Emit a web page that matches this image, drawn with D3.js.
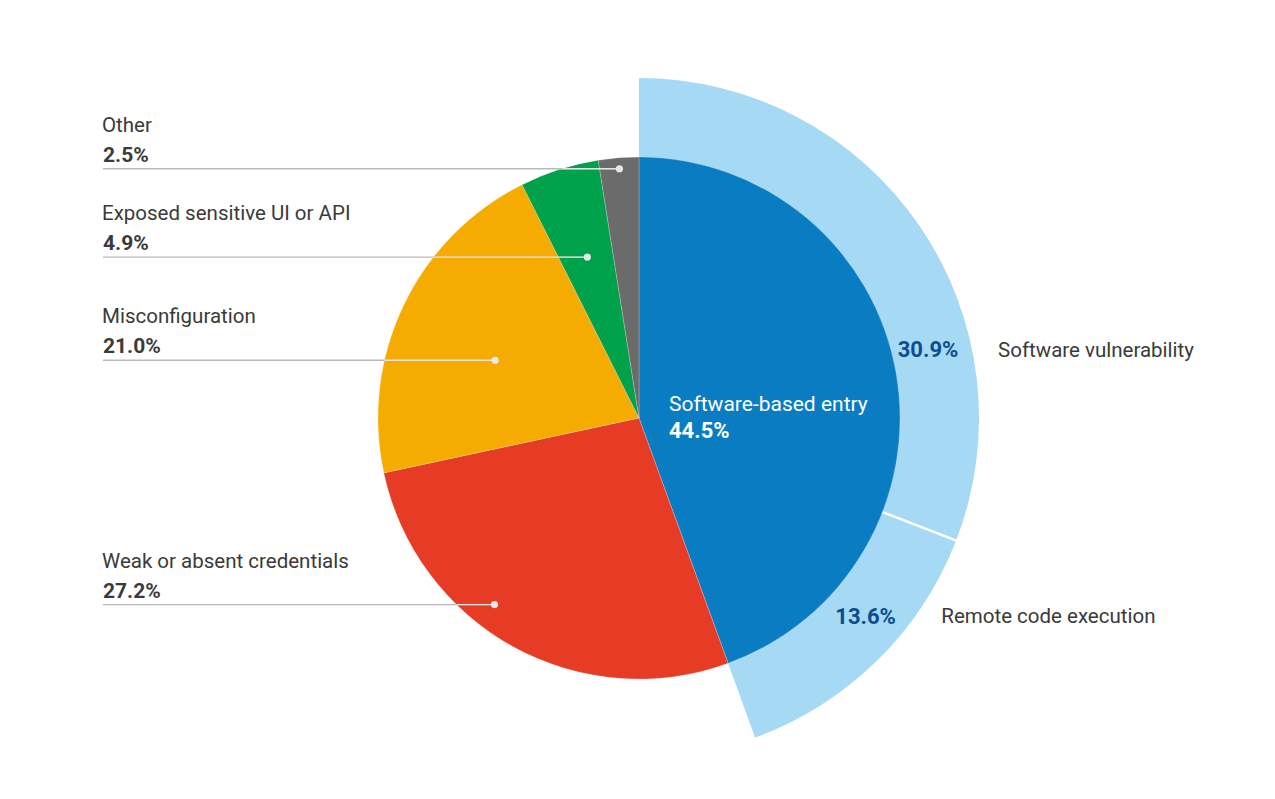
<!DOCTYPE html>
<html>
<head>
<meta charset="utf-8">
<script src="https://cdn.jsdelivr.net/npm/d3@7"></script>
<style>
  html, body { margin: 0; padding: 0; background: #fff; }
  svg { display: block; font-family: Roboto, "Noto Sans", sans-serif; }
</style>
</head>
<body>
<div id="chart"></div>
<script>
// inner pie, clockwise from 12 o'clock
const categories = ['Software-based entry', 'Weak or absent credentials', 'Misconfiguration', 'Exposed sensitive UI or API', 'Other'];
const shares = [44.5, 27.2, 21.0, 4.9, 2.5];
const colors = ['#0a7cc2', '#e63b25', '#f6ab00', '#00a14b', '#6b6b6b'];

// outer ring breaks down the first slice
const subCategories = ['Software vulnerability', 'Remote code execution'];
const subShares = [30.9, 13.6];

const width = 1275;
const height = 799;
const cx = 639;
const cy = 418;
const rPie = 261;
const rRing = 340;

const svg = d3.select('#chart').append('svg')
  .attr('width', width)
  .attr('height', height);

const g = svg.append('g').attr('transform', `translate(${cx},${cy})`);

const angle = d3.scaleLinear().domain([0, d3.sum(shares)]).range([0, 2 * Math.PI]);

const pie = d3.pie().sort(null).value(d => d);
const slices = pie(shares);

// outer ring spans the software-based slice only
const ringPie = d3.pie().sort(null).value(d => d)
  .startAngle(0).endAngle(angle(d3.sum(subShares)));
const ringSlices = ringPie(subShares);

const ringArc = d3.arc().innerRadius(rPie - 2).outerRadius(rRing);
g.selectAll('.ring')
  .data(ringSlices)
  .join('path')
  .attr('class', 'ring')
  .attr('d', ringArc)
  .attr('fill', '#a6d9f3');

// divider between ring segments
g.selectAll('.ringDiv')
  .data(ringSlices.slice(1))
  .join('line')
  .attr('class', 'ringDiv')
  .attr('x1', d => Math.sin(d.startAngle) * (rPie - 6))
  .attr('y1', d => -Math.cos(d.startAngle) * (rPie - 6))
  .attr('x2', d => Math.sin(d.startAngle) * (rRing + 1))
  .attr('y2', d => -Math.cos(d.startAngle) * (rRing + 1))
  .attr('stroke', '#fff')
  .attr('stroke-width', 2.5);

const pieArc = d3.arc().innerRadius(0).outerRadius(rPie);
g.selectAll('.slice')
  .data(slices)
  .join('path')
  .attr('class', 'slice')
  .attr('d', pieArc)
  .attr('fill', (d, i) => colors[i])
  .attr('stroke', 'rgba(255,255,255,0.35)')
  .attr('stroke-width', 0.6);

// callouts on the left: position of the dot inside each slice (fraction of sweep, radius)
const calloutSpot = { 1: [0.59, 236], 2: [0.45, 155], 3: [0.5, 169], 4: [0.5, 250] };
const lineX0 = 103 - cx;

svg.append('defs').append('clipPath').attr('id', 'pieClip')
  .append('circle').attr('cx', cx).attr('cy', cy).attr('r', rPie);

const callouts = slices.map((s, i) => {
  if (!calloutSpot[i]) return null;
  const [t, r] = calloutSpot[i];
  const a = s.startAngle + t * (s.endAngle - s.startAngle);
  return { i, x: Math.sin(a) * r, y: -Math.cos(a) * r };
}).filter(Boolean);

const cg = g.selectAll('.callout')
  .data(callouts)
  .join('g')
  .attr('class', 'callout');

cg.append('line')
  .attr('x1', lineX0).attr('x2', d => d.x)
  .attr('y1', d => d.y).attr('y2', d => d.y)
  .attr('stroke', '#b9b9b9')
  .attr('stroke-width', 1.4);

// lighter part of the line on top of the pie
svg.append('g').attr('clip-path', 'url(#pieClip)')
  .selectAll('line')
  .data(callouts)
  .join('line')
  .attr('x1', lineX0 + cx).attr('x2', d => d.x + cx)
  .attr('y1', d => d.y + cy).attr('y2', d => d.y + cy)
  .attr('stroke', 'rgba(255,255,255,0.6)')
  .attr('stroke-width', 1.4);

svg.selectAll('.dot')
  .data(callouts)
  .join('circle')
  .attr('class', 'dot')
  .attr('cx', d => d.x + cx)
  .attr('cy', d => d.y + cy)
  .attr('r', 3.6)
  .attr('fill', '#e8e8e8');

cg.append('text')
  .attr('x', lineX0 - 1)
  .attr('y', d => d.y - 37)
  .attr('fill', '#3a3a3a')
  .attr('font-size', 20.5)
  .text(d => categories[d.i]);

cg.append('text')
  .attr('x', lineX0)
  .attr('y', d => d.y - 7)
  .attr('fill', '#3a3a3a')
  .attr('font-size', 21)
  .attr('font-weight', 700)
  .text(d => shares[d.i].toFixed(1) + '%');

// center label for the big slice
g.append('text')
  .attr('x', 30).attr('y', -7)
  .attr('fill', '#fff')
  .attr('font-size', 21)
  .text(categories[0]);
g.append('text')
  .attr('x', 30).attr('y', 20)
  .attr('fill', '#fff')
  .attr('font-size', 22)
  .attr('font-weight', 700)
  .text(shares[0].toFixed(1) + '%');

// ring labels
const ringSpot = [[0.69, 297], [0.41, 301]];
const ringLabels = ringSlices.map((s, i) => {
  const [t, r] = ringSpot[i];
  const a = s.startAngle + t * (s.endAngle - s.startAngle);
  const y = -Math.cos(a) * r;
  return { i, x: Math.sin(a) * r, y, edge: Math.sqrt(rRing * rRing - y * y) };
});

const rl = g.selectAll('.ringLabel')
  .data(ringLabels)
  .join('g')
  .attr('class', 'ringLabel');

rl.append('text')
  .attr('x', d => d.x)
  .attr('y', d => d.y)
  .attr('dy', '0.35em')
  .attr('text-anchor', 'middle')
  .attr('fill', '#0b4d8e')
  .attr('font-size', 22)
  .attr('font-weight', 700)
  .text(d => subShares[d.i].toFixed(1) + '%');

rl.append('text')
  .attr('x', d => d.edge + 26)
  .attr('y', d => d.y)
  .attr('dy', '0.35em')
  .attr('fill', '#3a3a3a')
  .attr('font-size', 20.5)
  .text(d => subCategories[d.i]);
</script>
</body>
</html>
